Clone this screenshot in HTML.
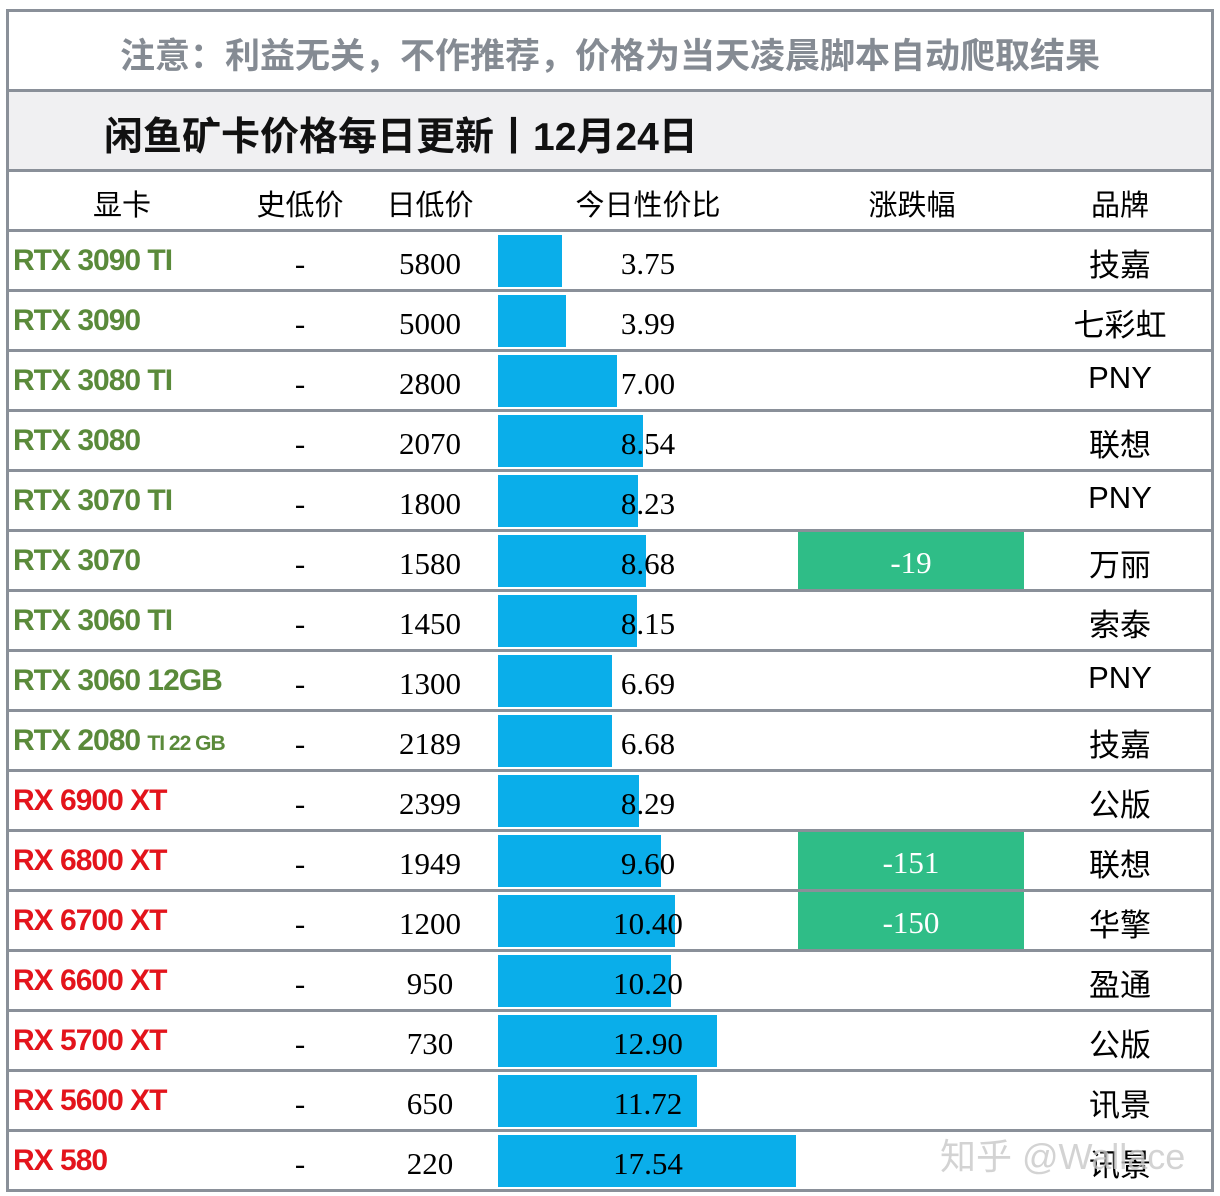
<!DOCTYPE html>
<html><head><meta charset="utf-8"><style>
body{margin:0;width:1220px;height:1196px;background:#fff;position:relative;overflow:hidden;font-family:"Liberation Sans","Noto Sans CJK SC",sans-serif}
.a{position:absolute}
.hl{position:absolute;left:6px;width:1208px;height:3px;background:#8a9099}
.c{position:absolute;text-align:center;white-space:nowrap}
.serif{font-family:"Liberation Serif","Noto Serif CJK SC",serif;font-size:31px}
</style></head><body>
<div class="a" style="left:6px;top:9px;width:1202px;height:1177px;border:3px solid #8a9099"></div>
<div class="a" style="left:9px;top:92px;width:1202px;height:78px;background:#f0f0f2"></div>
<div class="c" style="left:9px;width:1202px;top:28px;font-size:35px;color:#858b93;font-weight:bold">注意：利益无关，不作推荐，价格为当天凌晨脚本自动爬取结果</div>
<div class="a" style="left:104px;top:106px;font-size:39px;color:#111;font-weight:bold;white-space:nowrap">闲鱼矿卡价格每日更新丨12月24日</div>
<div class="hl" style="top:89px"></div>
<div class="hl" style="top:169px"></div>
<div class="hl" style="top:229px"></div>
<div class="c" style="left:62px;width:120px;top:182px;font-size:29px">显卡</div>
<div class="c" style="left:240px;width:120px;top:182px;font-size:29px">史低价</div>
<div class="c" style="left:370px;width:120px;top:182px;font-size:29px">日低价</div>
<div class="c" style="left:548px;width:200px;top:182px;font-size:29px">今日性价比</div>
<div class="c" style="left:812px;width:200px;top:182px;font-size:29px">涨跌幅</div>
<div class="c" style="left:1060px;width:120px;top:182px;font-size:29px">品牌</div>
<div id="rows"></div>
<div class="a" style="left:940px;top:1128px;font-size:36px;color:rgba(200,200,200,0.8);white-space:nowrap">知乎 @Wallace</div>
<script>
const cards=["RTX 3090 TI","RTX 3090","RTX 3080 TI","RTX 3080","RTX 3070 TI","RTX 3070","RTX 3060 TI","RTX 3060 12GB","RTX 2080","RX 6900 XT","RX 6800 XT","RX 6700 XT","RX 6600 XT","RX 5700 XT","RX 5600 XT","RX 580"];
const dayLow=[5800,5000,2800,2070,1800,1580,1450,1300,2189,2399,1949,1200,950,730,650,220];
const valueRatio=[3.75,3.99,7.00,8.54,8.23,8.68,8.15,6.69,6.68,8.29,9.60,10.40,10.20,12.90,11.72,17.54];
const changes=[null,null,null,null,null,-19,null,null,null,null,-151,-150,null,null,null,null];
const brands=["技嘉","七彩虹","PNY","联想","PNY","万丽","索泰","PNY","技嘉","公版","联想","华擎","盈通","公版","讯景","讯景"];
const root=document.getElementById('rows');
const xScale=v=>v*17;
function mk(cls,style,html){const d=document.createElement('div');d.className=cls;d.style.cssText=style;d.innerHTML=html||'';root.appendChild(d);return d;}
cards.forEach((name,i)=>{
  const top=232+60*i;
  const red=name.startsWith('RX');
  const bar=mk('a',`left:498px;top:${top+3}px;height:52px;width:${xScale(valueRatio[i])}px;background:#0aaeea`);
  
  
  if(changes[i]!==null){
    const g=mk('c serif',`left:798px;top:${top}px;width:226px;height:57px;line-height:62px;background:#2fbd87;color:#fff`,String(changes[i]));
    
    
  }
  let label=name;
  if(name==="RTX 2080") label='RTX 2080 <span style="font-size:21px">TI 22 GB</span>';
  const n=mk('a',`left:13px;top:${top+12}px;font-size:30px;font-weight:bold;letter-spacing:-1px;white-space:nowrap;color:${red?'#e3141c':'#5a8a3a'}`,label);
  
  
  const h=mk('c serif',`left:260px;width:80px;top:${top+14}px`,'-');
  
  
  const d=mk('c serif',`left:370px;width:120px;top:${top+14}px`,String(dayLow[i]));
  
  
  const v=mk('c serif',`left:548px;width:200px;top:${top+14}px`,valueRatio[i].toFixed(2));
  
  
  const b=mk('c',`left:1060px;width:120px;top:${top+8}px;font-size:31px`,brands[i]);
  
  
  if(i<cards.length-1){
    const l=mk('hl',`top:${top+57}px`);
    
    
  }
});
</script>
</body></html>
